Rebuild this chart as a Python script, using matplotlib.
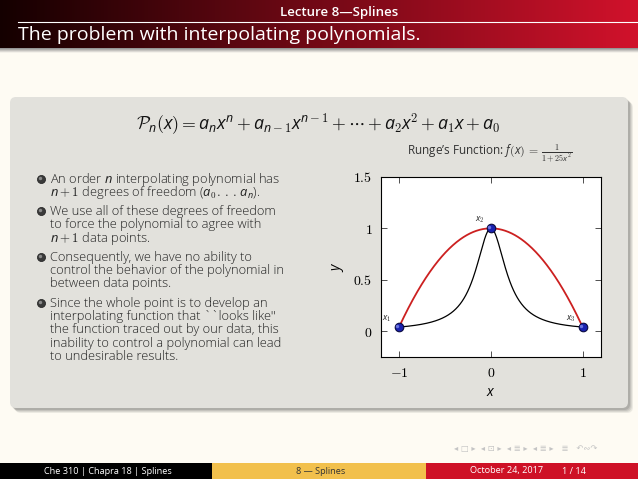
import numpy as np
import matplotlib
matplotlib.use("Agg")
import matplotlib.pyplot as plt
from matplotlib.patches import FancyBboxPatch, Rectangle

plt.rcParams['font.family'] = ['Open Sans', 'DejaVu Sans']
plt.rcParams['mathtext.fontset'] = 'custom'
plt.rcParams['mathtext.rm'] = 'cmr10'
plt.rcParams['mathtext.it'] = 'Open Sans:italic'
plt.rcParams['mathtext.cal'] = 'cmsy10'
plt.rcParams['mathtext.bf'] = 'cmb10'

# slide text
header = "Lecture 8\u2014Splines"
title = "The problem with interpolating polynomials."
formula = (r"$\mathcal{P}_n(x) = a_n x^n + a_{n-1} x^{n-1} + \cdots"
           r" + a_2 x^2 + a_1 x + a_0$")
runge_title = "Runge\u2019s Function: $f(x)\\,=\\,\\frac{1}{1+25x^2}$"
bullets = [
    ["An order $n$ interpolating polynomial has",
     "$n+1$ degrees of freedom ($a_0\\,.\\,.\\,.\\,a_n$)."],
    ["We use all of these degrees of freedom",
     "to force the polynomial to agree with",
     "$n+1$ data points."],
    ["Consequently, we have no ability to",
     "control the behavior of the polynomial in",
     "between data points."],
    ["Since the whole point is to develop an",
     "interpolating function that ``looks like''",
     "the function traced out by our data, this",
     "inability to control a polynomial can lead",
     "to undesirable results."],
]
footer_left = "Che 310 | Chapra 18 | Splines"
footer_mid = "8 \u2014 Splines"
footer_date = "October 24, 2017"
footer_page = "1 / 14"
nav_symbols = "\u25c2 \u25a1 \u25b8  \u25c2 \u22a1 \u25b8  \u25c2 \u2263 \u25b8  \u25c2 \u2263 \u25b8   \u2263   \u21b6\u223e\u21b7"

# plot data
node_x = np.array([-1.0, 0.0, 1.0])
node_labels = ["$x_1$", "$x_2$", "$x_3$"]
xticks = [-1, 0, 1]
xtick_labels = ["$-1$", "$0$", "$1$"]
yticks = [0, 0.5, 1, 1.5]
ytick_labels = ["$0$", "$0.5$", "$1$", "$1.5$"]


def runge(x):
    return 1.0 / (1.0 + 25.0 * x ** 2)


node_y = runge(node_x)
xs = np.linspace(-1, 1, 400)
poly = np.polyfit(node_x, node_y, 2)

fig = plt.figure(figsize=(6.38, 4.79), dpi=100)
fig.patch.set_facecolor('#FEFBF3')

bg = fig.add_axes([0, 0, 1, 1])
bg.set_xlim(0, 638)
bg.set_ylim(479, 0)
bg.axis('off')

# header gradient
c0 = np.array([0.08, 0.0, 0.0])
c1 = np.array([0.82, 0.07, 0.17])
t = np.linspace(0, 1, 256)[None, :, None]
bg.imshow(c0 + (c1 - c0) * t, extent=(0, 638, 48, 0), aspect='auto', zorder=1)
sh = np.linspace(0, 1, 20)[:, None, None]
bg.imshow(np.array([0.55, 0.55, 0.55]) + (np.array([0.996, 0.984, 0.953]) - 0.55) * sh,
          extent=(0, 638, 53, 48), aspect='auto', zorder=1)
bg.set_xlim(0, 638)
bg.set_ylim(479, 0)
bg.plot([18, 638], [21.5, 21.5], color='white', lw=0.8, zorder=2)
bg.text(339, 12, header, color='white', fontsize=9.5, fontweight='semibold',
        ha='center', va='center', zorder=3)
bg.text(18, 35, title, color='white', fontsize=14, ha='left', va='center', zorder=3)

# gray block with shadow
for i, a in enumerate([0.10, 0.12, 0.15, 0.2]):
    off = 5 - i
    bg.add_patch(FancyBboxPatch((10 + off, 97 + off), 618, 311,
                                boxstyle='round,pad=0,rounding_size=6',
                                fc='#555555', ec='none', alpha=a, zorder=2))
bg.add_patch(FancyBboxPatch((10, 97), 618, 311, boxstyle='round,pad=0,rounding_size=6',
                            fc='#E2E1DC', ec='none', zorder=3))

bg.text(318, 124, formula, fontsize=12.8, ha='center', va='center', color='#111111', zorder=4)
bg.text(490, 153, runge_title, fontsize=8.5, ha='center', va='center', color='#333333', zorder=4)

y = 179
for item in bullets:
    bg.scatter([41], [y], s=34, color='#3A3A3A', edgecolor='#1E1E1E', lw=0.5, zorder=4)
    bg.scatter([40.0], [y - 1.0], s=6, color='#8A8A8A', lw=0, zorder=5)
    for line in item:
        bg.text(50, y, line, fontsize=9.3, fontweight='light', ha='left', va='center',
                color='#222222', zorder=4)
        y += 13.4
    y += 5.6

# footer
bg.add_patch(Rectangle((0, 463), 212, 16, fc='black', ec='none', zorder=2))
bg.add_patch(Rectangle((212, 463), 214, 16, fc='#F2C04C', ec='none', zorder=2))
bg.add_patch(Rectangle((426, 463), 212, 16, fc='#CE1126', ec='none', zorder=2))
bg.text(108, 471, footer_left, color='white', fontsize=6.6, ha='center', va='center', zorder=3)
bg.text(321, 471, footer_mid, color='#333333', fontsize=6.6, ha='center', va='center', zorder=3)
bg.text(507, 471, footer_date, color='white', fontsize=6.6, ha='center', va='center', zorder=3)
bg.text(574, 471, footer_page, color='white', fontsize=6.6, ha='center', va='center', zorder=3)
bg.text(526, 449, nav_symbols, color='#C4C4C4', fontsize=6, ha='center', va='center',
        family='DejaVu Sans', zorder=3)

# the plot
ax = fig.add_axes([380.7 / 638, (479 - 357.3) / 479, (601 - 380.7) / 638, (357.3 - 177) / 479])
ax.set_facecolor('white')
ax.plot(xs, np.polyval(poly, xs), color='#CC2020', lw=1.3, zorder=2)
ax.plot(xs, runge(xs), color='black', lw=0.9, zorder=3)
ax.scatter(node_x, node_y, s=38, color='#1A22B0', edgecolor='#0A0A40', lw=0.8, zorder=4)
ax.scatter(node_x - 0.02, node_y + 0.012, s=6, color='#6A74E0', lw=0, zorder=5)
label_off = [(-0.13, 0.08), (-0.12, 0.08), (-0.13, 0.08)]
for xi, yi, lab, (dx, dy) in zip(node_x, node_y, node_labels, label_off):
    ax.text(xi + dx, yi + dy, lab, fontsize=6.5, ha='center', va='center', color='#222222')
ax.set_xlim(-1.2, 1.2)
ax.set_ylim(-0.256, 1.5)
ax.set_xticks(xticks)
ax.set_xticklabels(xtick_labels)
ax.set_yticks(yticks)
ax.set_yticklabels(ytick_labels)
ax.tick_params(direction='in', top=True, right=True, length=4.5, width=0.6,
               labelsize=10, pad=6, color='#333333')
for s in ax.spines.values():
    s.set_linewidth(0.8)
ax.set_xlabel("$x$", fontsize=10, labelpad=3)
ax.set_ylabel("$y$", fontsize=10, labelpad=5)

fig.savefig("out.png", dpi=100, facecolor=fig.get_facecolor())
